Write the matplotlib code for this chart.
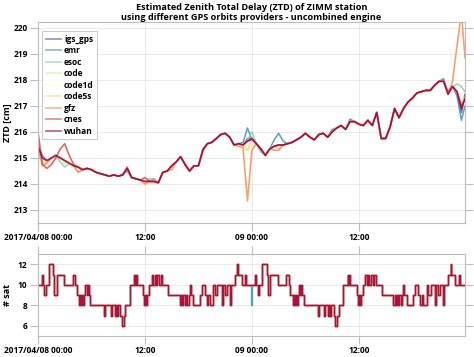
import numpy as np
import matplotlib
matplotlib.use("Agg")
import matplotlib.pyplot as plt

plt.rcParams['font.family'] = ['Open Sans', 'DejaVu Sans']
plt.rcParams['font.weight'] = 'bold'
plt.rcParams['axes.labelweight'] = 'bold'

# ---------------- data ----------------
providers = ["igs_gps", "emr", "esoc", "code", "code1d", "code5s", "gfz", "cnes", "wuhan"]
tick_hours = [0, 12, 24, 36]
tick_labels = ["2017/04/08 00:00", "12:00", "09 00:00", "12:00"]
ztd_ticks = [213, 214, 215, 216, 217, 218, 219, 220]
sat_ticks = [6, 8, 10, 12]

# ZTD sample times (hours since 2017/04/08 00:00)
hours = [0.0, 0.5, 1.0, 1.5, 2.0, 2.5, 3.0, 3.5, 4.0, 4.5, 5.0, 5.5, 6.0, 6.5, 7.0, 7.5,
         8.0, 8.5, 9.0, 9.5, 10.0, 10.5, 11.0, 11.5, 12.0, 12.5, 13.0, 13.5, 14.0, 14.5,
         15.0, 15.5, 16.0, 16.5, 17.0, 17.5, 18.0, 18.5, 19.0, 19.5, 20.0, 20.5, 21.0,
         21.5, 22.0, 22.5, 23.0, 23.5, 24.0, 24.5, 25.0, 25.5, 26.0, 26.5, 27.0, 27.5,
         28.0, 28.5, 29.0, 29.5, 30.0, 30.5, 31.0, 31.5, 32.0, 32.5, 33.0, 33.5, 34.0,
         34.5, 35.0, 35.5, 36.0, 36.5, 37.0, 37.5, 38.0, 38.5, 39.0, 39.5, 40.0, 40.5,
         41.0, 41.5, 42.0, 42.5, 43.0, 43.5, 44.0, 44.5, 45.0, 45.5, 46.0, 46.5, 47.0,
         47.5, 47.9]

# wuhan ZTD [cm] (common trace that all providers follow)
ztd_wuhan = [215.45, 215.0, 214.9, 215.0, 215.1, 215.0, 214.9, 214.8, 214.7, 214.65,
             214.55, 214.6, 214.55, 214.45, 214.4, 214.35, 214.3, 214.35, 214.3, 214.35,
             214.6, 214.25, 214.2, 214.15, 214.1, 214.1, 214.1, 214.05, 214.45, 214.5,
             214.7, 214.85, 215.05, 214.75, 214.5, 214.7, 214.7, 215.3, 215.55, 215.6,
             215.75, 215.9, 215.95, 215.8, 215.5, 215.55, 215.5, 215.65, 215.75, 215.55,
             215.35, 215.1, 215.35, 215.45, 215.5, 215.5, 215.55, 215.6, 215.7, 215.8,
             215.95, 215.8, 215.7, 215.9, 215.95, 215.8, 216.0, 216.15, 216.25, 216.1,
             216.4, 216.4, 216.3, 216.25, 216.45, 216.25, 216.75, 215.75, 215.75, 216.2,
             216.9, 216.55, 216.9, 217.15, 217.3, 217.5, 217.55, 217.6, 217.6, 217.8,
             217.95, 217.95, 217.45, 217.75, 217.55, 216.9, 217.3]

# provider values that differ from the common trace, read at sample hours
ztd_diff = {
    "igs_gps": {0.0: 215.5, 23.5: 215.75, 33.0: 216.05, 47.0: 217.5, 47.5: 216.75, 47.9: 217.45},
    "emr": {0.5: 215.1, 10.0: 214.5, 13.0: 214.2, 23.0: 215.6, 23.5: 216.15, 24.0: 215.7,
            25.0: 215.25, 26.5: 215.7, 27.0: 215.95, 27.5: 215.65, 33.0: 216.1,
            35.0: 216.5, 45.5: 218.05, 47.0: 217.4, 47.5: 216.45, 47.9: 217.0},
    "esoc": {0.0: 215.0, 2.5: 214.85, 3.0: 214.65, 12.5: 214.2, 13.0: 214.2, 23.5: 215.7,
             24.0: 216.0, 25.0: 215.25, 47.0: 217.85, 47.5: 217.75, 47.9: 217.55},
    "code": {1.0: 214.8, 3.0: 214.8, 23.5: 215.3, 24.0: 215.45, 36.5: 216.2, 47.5: 217.1},
    "code1d": {1.0: 214.75, 23.5: 215.25, 24.0: 215.4, 47.5: 217.15},
    "code5s": {0.5: 214.7, 4.5: 214.45, 12.0: 214.0, 13.0: 214.0, 23.5: 215.3,
               27.0: 215.35, 47.5: 217.1},
    "gfz": {0.5: 214.7, 1.0: 214.8, 4.5: 214.45, 12.0: 214.0, 15.0: 214.55, 22.5: 215.45,
            23.0: 215.4, 23.5: 213.35, 24.0: 215.3, 26.5: 215.3, 27.0: 215.3,
            46.5: 217.95, 47.0: 219.3, 47.5: 220.6, 47.9: 218.85},
    "cnes": {0.0: 216.0, 0.5: 214.75, 1.0: 214.6, 1.5: 214.75, 2.0: 215.0, 2.5: 215.35,
             3.0: 215.55, 3.5: 215.1, 4.0: 214.75, 10.0: 214.65, 12.0: 214.25,
             18.5: 215.35, 24.0: 215.7, 46.0: 217.55, 47.5: 217.0, 47.9: 217.25},
    "wuhan": {},
}

# number of satellites: change times [h] and values (step series)
sat_hours_day1 = [0.0, 0.41, 0.52, 0.71, 0.90, 1.20, 1.72, 1.83, 2.13, 2.95, 3.89, 4.19,
                  4.34, 4.64, 4.75, 4.86, 4.97, 5.08, 5.19, 5.31, 5.46, 5.57, 5.68, 5.87,
                  7.44, 7.55, 8.15, 8.26, 8.60, 8.71, 8.82, 8.93, 9.23, 9.42, 9.60, 9.79,
                  10.30, 10.80, 10.90, 10.98, 11.08, 11.81, 11.93, 12.04, 12.15, 12.26,
                  12.49, 12.75, 12.94, 13.12, 13.23, 13.38, 13.61, 13.76, 13.94, 14.62,
                  15.93, 16.08, 16.19, 16.30, 16.49, 16.60, 16.75, 16.90, 17.05, 17.12,
                  17.42, 18.17, 18.36, 18.73, 18.92, 19.10, 19.29, 19.66, 19.85, 20.11,
                  20.64, 20.75, 20.97, 21.16, 21.53, 21.64, 22.09, 22.36, 22.43, 22.84,
                  23.25, 23.36]
sat_values_day1 = [10, 11, 10, 9, 10, 12, 11, 9, 11, 10, 11, 10,
                   9, 8, 9, 8, 9, 8, 9, 10, 9, 10, 9, 8,
                   7, 8, 7, 8, 7, 8, 7, 8, 7, 6, 7, 8,
                   10, 11, 10, 11, 10, 9, 8, 9, 8, 9,
                   10, 11, 10, 11, 10, 11, 10, 11, 10, 9,
                   8, 9, 8, 9, 8, 9, 8, 9, 10, 9,
                   8, 9, 10, 9, 8, 9, 8, 10, 9, 10,
                   8, 10, 9, 10, 8, 10, 11, 12, 11, 10,
                   11, 10]
sat_hours_day2 = [23.93, 24.34, 24.45, 24.64, 24.83, 25.13, 25.65, 25.76, 26.06, 26.88,
                  27.82, 28.12, 28.27, 28.57, 28.68, 28.79, 28.90, 29.01, 29.12, 29.24,
                  29.39, 29.50, 29.61, 29.80, 31.37, 31.48, 32.08, 32.19, 32.53, 32.64,
                  32.75, 32.86, 33.16, 33.35, 33.53, 33.72, 34.23, 34.73, 34.83, 34.91,
                  35.01, 35.74, 35.86, 35.97, 36.08, 36.19, 36.42, 36.68, 36.87, 37.05,
                  37.16, 37.31, 37.54, 37.69, 37.87, 38.55, 39.86, 40.01, 40.12, 40.23,
                  40.42, 40.53, 40.68, 40.83, 40.98, 41.05, 41.35, 42.10, 42.29, 42.66,
                  42.85, 43.03, 43.22, 43.59, 43.78, 44.04, 44.57, 44.68, 44.90, 45.09,
                  45.46, 45.57, 46.02, 46.29, 46.36, 46.77, 47.18, 47.29, 47.9]
sat_values_day2 = [10, 11, 10, 9, 10, 12, 11, 9, 11, 10,
                   11, 10, 9, 8, 9, 8, 9, 8, 9, 10,
                   9, 10, 9, 8, 7, 8, 7, 8, 7, 8,
                   7, 8, 7, 6, 7, 8, 10, 11, 10, 11,
                   10, 9, 8, 9, 8, 9, 10, 11, 10, 11,
                   10, 11, 10, 11, 10, 9, 8, 9, 8, 9,
                   8, 9, 8, 9, 10, 9, 8, 9, 10, 9,
                   8, 9, 8, 10, 9, 10, 8, 10, 9, 10,
                   8, 10, 11, 12, 11, 10, 11, 10, 10]
# emr has one short drop at the start of day 2
emr_dip_hours = [23.89, 23.89, 23.95]
emr_dip_values = [10, 8, 10]

# ---------------- figure ----------------
W, H = 474, 357
fig = plt.figure(figsize=(W / 100, H / 100), dpi=100)
ax1 = fig.add_axes([38 / W, 1 - 223 / H, 427 / W, 201 / H])
ax2 = fig.add_axes([38 / W, 1 - 336 / H, 427 / W, 82 / H])

colors = plt.cm.Spectral_r(np.linspace(0, 1, len(providers)))
spine_c = '#bdbdbd'
grid_c = '#e6e6e6'

hrs = np.array(hours)
for name, c in zip(providers, colors):
    vals = list(ztd_wuhan)
    for h, v in ztd_diff[name].items():
        vals[hours.index(h)] = v
    ax1.plot(hrs, vals, color=c, lw=1.15, alpha=0.85, label=name)

sat_h = sat_hours_day1 + sat_hours_day2
sat_v = sat_values_day1 + sat_values_day2
for name, c in zip(providers, colors):
    ax2.step(sat_h, sat_v, where='post', color=c, lw=1.0, alpha=0.8)
    if name == "emr":
        ax2.step(emr_dip_hours, emr_dip_values, where='post', color=c, lw=1.0, alpha=0.9)

for ax in (ax1, ax2):
    ax.set_xlim(0, 47.9)
    ax.set_xticks(tick_hours)
    ax.set_xticklabels(tick_labels)
    ax.grid(True, color=grid_c, lw=0.6)
    ax.set_axisbelow(True)
    for s in ax.spines.values():
        s.set_color(spine_c)
        s.set_linewidth(0.8)
    ax.tick_params(axis='both', direction='out', length=5.5, width=0.8, color=spine_c,
                   labelsize=6, pad=2, right=True)
    for lab in ax.get_xticklabels() + ax.get_yticklabels():
        lab.set_fontweight('bold')

ax2.tick_params(axis='x', top=True)

ax1.set_ylim(212.5, 220.23)
ax1.set_yticks(ztd_ticks)
ax2.set_ylim(5, 13)
ax2.set_yticks(sat_ticks)

ax1.set_ylabel("ZTD [cm]", fontsize=6.5, fontweight='bold', labelpad=1)
ax2.set_ylabel("# sat", fontsize=6.5, fontweight='bold', labelpad=4)

ax1.set_title("Estimated Zenith Total Delay (ZTD) of ZIMM station\n"
              "using different GPS orbits providers - uncombined engine",
              fontsize=6.6, fontweight='bold', pad=1.5, linespacing=1.1)

leg = ax1.legend(loc='upper left', bbox_to_anchor=(0.008, 0.96), fontsize=6,
                 frameon=True, fancybox=False, edgecolor='#cccccc', framealpha=1,
                 handlelength=1.8, handletextpad=0.35, labelspacing=0.3, borderpad=0.45,
                 borderaxespad=0.1)
leg.get_frame().set_linewidth(0.8)
for t in leg.get_texts():
    t.set_fontweight('bold')
for l in leg.get_lines():
    l.set_alpha(0.6)
    l.set_linewidth(1.3)

fig.savefig("out.png", dpi=100)
